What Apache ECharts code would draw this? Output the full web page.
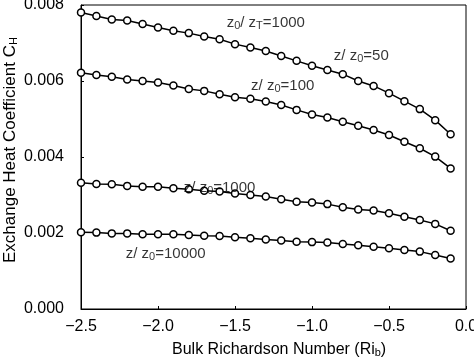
<!DOCTYPE html>
<html>
<head>
<meta charset="utf-8">
<script src="https://cdn.jsdelivr.net/npm/echarts@6/dist/echarts.min.js"></script>
<style>
html,body{margin:0;padding:0;background:#fff;}
#chart{width:474px;height:363px;}
</style>
</head>
<body>
<div id="chart"></div>
<script>
// Bulk Richardson number (x)
var richardson = [-2.5,-2.4,-2.3,-2.2,-2.1,-2.0,-1.9,-1.8,-1.7,-1.6,-1.5,-1.4,-1.3,-1.2,-1.1,-1.0,-0.9,-0.8,-0.7,-0.6,-0.5,-0.4,-0.3,-0.2,-0.1];
// Exchange heat coefficient CH for each z/z0
var ch50 = [0.00780,0.00771,0.00762,0.00759,0.00750,0.00741,0.00732,0.00726,0.00717,0.00710,0.00697,0.00688,0.00679,0.00666,0.00653,0.00640,0.00629,0.00618,0.00600,0.00587,0.00568,0.00547,0.00526,0.00497,0.00460];
var ch100 = [0.00622,0.00616,0.00611,0.00604,0.00600,0.00596,0.00588,0.00579,0.00574,0.00565,0.00557,0.00553,0.00546,0.00537,0.00524,0.00512,0.00504,0.00493,0.00482,0.00471,0.00458,0.00440,0.00423,0.00401,0.00370];
var ch1000 = [0.00332,0.00329,0.00328,0.00324,0.00322,0.00322,0.00318,0.00315,0.00311,0.00309,0.00304,0.00300,0.00296,0.00289,0.00282,0.00280,0.00276,0.00268,0.00262,0.00259,0.00252,0.00243,0.00234,0.00224,0.00206];
var ch10000 = [0.00202,0.00201,0.00199,0.00199,0.00197,0.00197,0.00197,0.00195,0.00193,0.00192,0.00189,0.00186,0.00183,0.00180,0.00177,0.00176,0.00175,0.00171,0.00168,0.00164,0.00160,0.00155,0.00151,0.00142,0.00133];
// Curve annotations: [x, y, text]
var annotations = [
  [-1.30, 0.00752, '{m|z}{s|0}{m|/ z}{s|T}{m|=1000}'],
  [-0.68, 0.00665, '{m|z/ z}{s|0}{m|=50}'],
  [-1.19, 0.00587, '{m|z/ z}{s|0}{m|=100}'],
  [-1.60, 0.00318, '{m|z/ z}{s|0}{m|=1000}'],
  [-1.95, 0.00145, '{m|z/ z}{s|0}{m|=10000}']
];
var xTicks = {min: -2.5, max: 0, interval: 0.5};
var yTicks = {min: 0, max: 0.008, interval: 0.002};

function pairs(vals){ return richardson.map(function(x,i){ return [x, vals[i]]; }); }

var chart = echarts.init(document.getElementById('chart'), null, {renderer:'canvas'});
var font = "'Liberation Sans', Arial, sans-serif";
function lineSeries(vals){
  return {
    type:'line', data: pairs(vals), symbol:'circle', symbolSize:7,
    lineStyle:{color:'#000', width:1.5},
    itemStyle:{color:'#fff', borderColor:'#000', borderWidth:1.5},
    z: 3, silent:true, animation:false
  };
}
chart.setOption({
  animation:false,
  backgroundColor:'#fff',
  grid:{left:81, right:8, top:5, bottom:54, show:true, borderColor:'#000', borderWidth:1, outerBoundsMode:'none'},
  xAxis:{
    type:'value', min:xTicks.min, max:xTicks.max, interval:xTicks.interval,
    axisLine:{show:true, onZero:false, lineStyle:{color:'#000', width:1}},
    axisTick:{show:true, inside:true, length:3, lineStyle:{color:'#000'}},
    splitLine:{show:false},
    axisLabel:{color:'#000', fontSize:16, fontFamily:font, margin:10,
      formatter:function(v){ return v < 0 ? '\u2212' + Math.abs(v).toFixed(1) : v.toFixed(1); }}
  },
  yAxis:{
    type:'value', min:yTicks.min, max:yTicks.max, interval:yTicks.interval,
    axisLine:{show:true, onZero:false, lineStyle:{color:'#000', width:1}},
    axisTick:{show:true, inside:true, length:3, lineStyle:{color:'#000'}},
    splitLine:{show:false},
    axisLabel:{color:'#000', fontSize:16, fontFamily:font, margin:17,
      formatter:function(v){ return v.toFixed(3); }}
  },
  graphic:[
    {type:'text', left:172, top:342, style:{
      text:'{m|Bulk Richardson Number (Ri}{s|b}{m|)}',
      rich:{m:{fontSize:16, fontFamily:font, fill:'#000'},
            s:{fontSize:11, fontFamily:font, fill:'#000', padding:[6,0,0,0]}}
    }},
    {type:'text', rotation:Math.PI/2, x:2, y:263, style:{
      text:'{m|Exchange Heat Coefficient C}{s|H}',
      rich:{m:{fontSize:17, fontFamily:font, fill:'#000'},
            s:{fontSize:11, fontFamily:font, fill:'#000', padding:[6,0,0,0]}}
    }}
  ],
  series:[
    lineSeries(ch50), lineSeries(ch100), lineSeries(ch1000), lineSeries(ch10000),
    {
      type:'scatter', symbolSize:0, silent:true, z:5,
      data: annotations.map(function(a){ return {value:[a[0], a[1]], label:{formatter:a[2]}}; }),
      label:{show:true, position:'inside', color:'#000',
        rich:{m:{fontSize:15, fontFamily:font, color:'#000'},
              s:{fontSize:11, fontFamily:font, color:'#000', padding:[6,0,0,0]}}}
    }
  ]
});
</script>
</body>
</html>
